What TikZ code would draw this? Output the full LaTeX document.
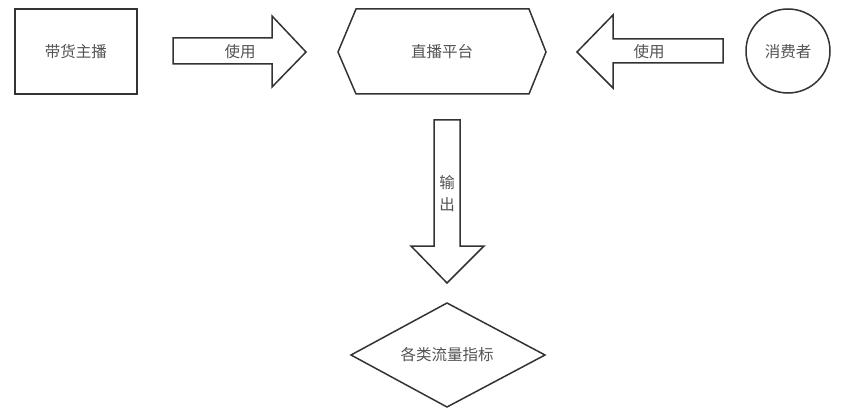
\documentclass[tikz,border=0pt]{standalone}
\usepackage{fontspec}
\newfontfamily\cjk{Noto Sans CJK SC}
\begin{document}
\begin{tikzpicture}[x=1pt,y=-1pt,
  shp/.style={draw=black!80, line width=1.5pt, line join=miter},
  lbl/.style={text=black!68, font=\cjk\fontsize{15.5}{22}\selectfont, inner sep=0pt, align=center}]
\useasboundingbox (0,0) rectangle (847,412);
% streamer box
\draw[shp] (15,9) rectangle (137,94);
\node[lbl] (streamer) at (76,52) {带货主播};
% right block arrow
\draw[shp] (173,38) -- (272,38) -- (272,16) -- (306,52) -- (272,87) -- (272,64) -- (173,64) -- cycle;
\node[lbl] (use1) at (240,52) {使用};
% platform hexagon
\draw[shp] (338,52) -- (356,9) -- (529,9) -- (546,52) -- (529,94) -- (356,94) -- cycle;
\node[lbl] (platform) at (442,52) {直播平台};
% left block arrow
\draw[shp] (577,52) -- (613,15) -- (613,39) -- (723,39) -- (723,63) -- (613,63) -- (613,88) -- cycle;
\node[lbl] (use2) at (649,52) {使用};
% consumer circle
\draw[shp] (788,51) circle[radius=42];
\node[lbl] (consumer) at (788,52) {消费者};
% down block arrow
\draw[shp] (434,120) -- (460,120) -- (460,246) -- (484,246) -- (447,283) -- (411,246) -- (434,246) -- cycle;
\node[lbl] (output) at (447,194) {输\\出};
% metrics diamond
\draw[shp] (447,303) -- (545,355) -- (447,407) -- (351,355) -- cycle;
\node[lbl] (metrics) at (447,355) {各类流量指标};
\end{tikzpicture}
\end{document}
